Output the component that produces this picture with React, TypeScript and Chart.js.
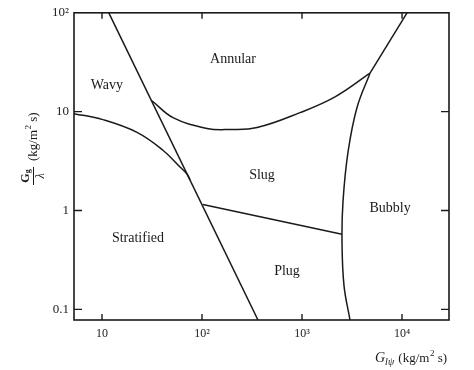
import React, { useEffect, useRef } from "react";
import { Chart, registerables } from "chart.js";
Chart.register(...registerables);

// Axis ticks
const xTicks = [10, 100, 1000, 10000];
const xTickLabels = ["10", "10²", "10³", "10⁴"];
const yTicks = [0.1, 1, 10, 100];
const yTickLabels = ["0.1", "1", "10", "10²"];
const xMin = 5.25;
const xMax = 29500;
const yMin = 0.078;
const yMax = 100;

// Boundary curves (G_l psi, G_g / lambda)
const steepLineX = [11.7, 363];
const steepLineY = [100, 0.078];
const stratifiedX = [5.25, 10.2, 22.4, 40.7, 60.3, 70.8, 75.9];
const stratifiedY = [9.55, 8.3, 6.17, 4.07, 2.75, 2.34, 2.04];
const annularX = [31.6, 51.3, 112, 191, 355, 955, 2138, 4786];
const annularY = [12.9, 8.7, 6.76, 6.6, 6.9, 9.77, 14.1, 24.5];
const upperRightX = [4786, 11220];
const upperRightY = [24.5, 100];
const bubblyX = [4786, 3548, 2884, 2570, 2512, 2630, 3020];
const bubblyY = [24.5, 11.0, 3.89, 1.23, 0.49, 0.174, 0.078];
const slugPlugX = [102, 2512];
const slugPlugY = [1.15, 0.575];

// Region labels
const regionNames = ["Annular", "Wavy", "Slug", "Bubbly", "Stratified", "Plug"];
const regionX = [204, 11.2, 398, 7586, 22.9, 708];
const regionY = [33.9, 18.6, 2.29, 1.05, 0.525, 0.24];

const pts = (xs: number[], ys: number[]) => xs.map((x, i) => ({ x, y: ys[i] }));

const SERIF = "'Liberation Serif', 'DejaVu Serif', serif";
const INK = "#1a1a1a";

const overlay = {
  id: "overlay",
  afterDatasetsDraw(chart: any) {
    const { ctx, chartArea: a, scales } = chart;
    const xs = scales.x;
    const ys = scales.y;
    ctx.save();
    ctx.strokeStyle = INK;
    ctx.lineWidth = 1.6;
    ctx.strokeRect(a.left, a.top, a.right - a.left, a.bottom - a.top);
    ctx.lineWidth = 1.4;
    ctx.beginPath();
    xTicks.forEach((v) => {
      const px = xs.getPixelForValue(v);
      ctx.moveTo(px, a.bottom);
      ctx.lineTo(px, a.bottom - 6);
      ctx.moveTo(px, a.top);
      ctx.lineTo(px, a.top + 6);
    });
    yTicks.forEach((v) => {
      if (v >= yMax) return;
      const py = ys.getPixelForValue(v);
      ctx.moveTo(a.left, py);
      ctx.lineTo(a.left + 8, py);
      ctx.moveTo(a.right, py);
      ctx.lineTo(a.right - 8, py);
    });
    ctx.stroke();

    // region labels
    ctx.fillStyle = INK;
    ctx.font = `14px ${SERIF}`;
    ctx.textAlign = "center";
    ctx.textBaseline = "middle";
    regionNames.forEach((n, i) => {
      ctx.fillText(n, xs.getPixelForValue(regionX[i]), ys.getPixelForValue(regionY[i]));
    });

    // x-axis title: G_lψ (kg/m² s)
    ctx.textAlign = "left";
    ctx.textBaseline = "alphabetic";
    let x = 375;
    const base = 362;
    ctx.font = `italic 14px ${SERIF}`;
    ctx.fillText("G", x, base);
    x += ctx.measureText("G").width;
    ctx.font = `italic 10px ${SERIF}`;
    ctx.fillText("lψ", x, base + 3);
    x += ctx.measureText("lψ").width + 1;
    ctx.font = `13px ${SERIF}`;
    ctx.fillText(" (kg/m", x, base);
    x += ctx.measureText(" (kg/m").width;
    ctx.font = `9px ${SERIF}`;
    ctx.fillText("2", x + 0.5, base - 6);
    x += ctx.measureText("2").width + 0.5;
    ctx.font = `13px ${SERIF}`;
    ctx.fillText(" s)", x, base);

    // y-axis title: (G_g / λ) (kg/m² s), rotated
    ctx.translate(33, 152);
    ctx.rotate(-Math.PI / 2);
    const fc = -24;
    ctx.lineWidth = 1;
    ctx.beginPath();
    ctx.moveTo(fc - 9, 0.5);
    ctx.lineTo(fc + 9, 0.5);
    ctx.stroke();
    ctx.textBaseline = "alphabetic";
    ctx.font = `bold 12px ${SERIF}`;
    const gw = ctx.measureText("G").width;
    ctx.font = `bold 8px ${SERIF}`;
    const sw = ctx.measureText("g").width;
    const fx = fc - (gw + sw) / 2;
    ctx.font = `bold 12px ${SERIF}`;
    ctx.fillText("G", fx, -4);
    ctx.font = `bold 8px ${SERIF}`;
    ctx.fillText("g", fx + gw, -3.5);
    ctx.font = `italic 12px ${SERIF}`;
    ctx.textAlign = "center";
    ctx.fillText("λ", fc, 11);
    // units
    ctx.textAlign = "left";
    let ux = -9;
    ctx.font = `13px ${SERIF}`;
    ctx.fillText("(kg/m", ux, 4);
    ux += ctx.measureText("(kg/m").width;
    ctx.font = `9px ${SERIF}`;
    ctx.fillText("2", ux + 0.5, -2);
    ux += ctx.measureText("2").width + 0.5;
    ctx.font = `13px ${SERIF}`;
    ctx.fillText(" s)", ux, 4);
    ctx.restore();
  },
};

const lineDs = (xs: number[], ys: number[], tension: number) => ({
  data: pts(xs, ys),
  showLine: true,
  borderColor: INK,
  borderWidth: 1.5,
  pointRadius: 0,
  fill: false,
  tension,
});

export default function App() {
  const ref = useRef<HTMLCanvasElement>(null);
  useEffect(() => {
    if (!ref.current) return;
    const chart = new Chart(ref.current, {
      type: "scatter",
      data: {
        datasets: [
          lineDs(steepLineX, steepLineY, 0),
          lineDs(stratifiedX, stratifiedY, 0.4),
          lineDs(annularX, annularY, 0.4),
          lineDs(upperRightX, upperRightY, 0),
          lineDs(bubblyX, bubblyY, 0.4),
          lineDs(slugPlugX, slugPlugY, 0),
        ] as any,
      },
      options: {
        animation: false,
        responsive: false,
        layout: { padding: { top: 10, right: 25, left: 0, bottom: 0 } },
        plugins: { legend: { display: false }, tooltip: { enabled: false } },
        scales: {
          x: {
            type: "logarithmic",
            min: xMin,
            max: xMax,
            grid: { display: false, drawTicks: false },
            border: { display: false },
            afterBuildTicks: (s: any) => {
              s.ticks = xTicks.map((v) => ({ value: v }));
            },
            afterFit: (s: any) => {
              s.height = 50;
            },
            ticks: {
              autoSkip: false,
              maxRotation: 0,
              padding: 7,
              color: "#222",
              font: { family: SERIF, size: 12 },
              callback: (_v: any, i: number) => xTickLabels[i],
            },
          },
          y: {
            type: "logarithmic",
            min: yMin,
            max: yMax,
            grid: { display: false, drawTicks: false },
            border: { display: false },
            afterBuildTicks: (s: any) => {
              s.ticks = yTicks.map((v) => ({ value: v }));
            },
            afterFit: (s: any) => {
              s.width = 74;
            },
            ticks: {
              autoSkip: false,
              padding: 5,
              color: "#222",
              font: { family: SERIF, size: 13 },
              callback: (_v: any, i: number) => yTickLabels[i],
            },
          },
        },
      } as any,
      plugins: [overlay],
    });
    return () => chart.destroy();
  }, []);
  return (
    <div style={{ position: "fixed", left: 0, top: 0, width: 474, height: 370, background: "#fff" }}>
      <canvas ref={ref} width={474} height={370} />
    </div>
  );
}
